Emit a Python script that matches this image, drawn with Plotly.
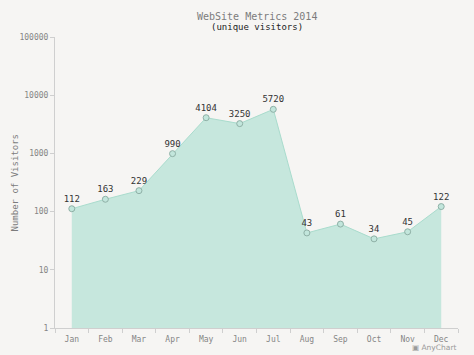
import plotly.graph_objects as go

months = ["Jan", "Feb", "Mar", "Apr", "May", "Jun", "Jul", "Aug", "Sep", "Oct", "Nov", "Dec"]
visitors = [112, 163, 229, 990, 4104, 3250, 5720, 43, 61, 34, 45, 122]
baseline = [1] * len(months)
y_ticks = [1, 10, 100, 1000, 10000, 100000]
y_tick_labels = ["1", "10", "100", "1000", "10000", "100000"]

font_family = "DejaVu Sans Mono, monospace"
PLOT_TOP, PLOT_BOTTOM = 37, 328
PH = PLOT_BOTTOM - PLOT_TOP


def py(px):
    return (PLOT_BOTTOM - px) / PH


fig = go.Figure()
fig.add_trace(go.Scatter(x=months, y=baseline, mode="lines", line=dict(width=0),
                         hoverinfo="skip", showlegend=False))
fig.add_trace(go.Scatter(
    x=months, y=visitors, mode="lines+markers+text",
    fill="tonexty", fillcolor="rgba(181,225,213,0.75)",
    line=dict(color="#a9dccd", width=1),
    marker=dict(size=6, color="#c2e6dc", line=dict(color="#8fb0a6", width=1)),
    text=[str(v) for v in visitors], textposition="top center",
    textfont=dict(family=font_family, size=9, color="#333333"),
    showlegend=False,
))

fig.update_layout(
    width=474, height=355,
    margin=dict(l=55, r=16, t=37, b=27, autoexpand=False),
    paper_bgcolor="#f6f5f3", plot_bgcolor="#f6f5f3",
    font=dict(family=font_family, size=9, color="#7c7c7c"),
    xaxis=dict(
        type="category", range=[-0.5, 11.5], tickson="boundaries",
        showline=True, linecolor="#cfcfcf", linewidth=1,
        ticks="outside", ticklen=4, tickcolor="#cfcfcf",
        showgrid=False, zeroline=False, automargin=False,
        ticklabelstandoff=3,
        tickfont=dict(family=font_family, size=8, color="#858585"),
    ),
    yaxis=dict(
        type="log", range=[0, 5],
        tickvals=y_ticks, ticktext=y_tick_labels,
        showline=True, linecolor="#cfcfcf", linewidth=1,
        ticks="outside", ticklen=4, tickcolor="#cfcfcf",
        showgrid=False, zeroline=False, automargin=False,
        tickfont=dict(family=font_family, size=8, color="#858585"),
    ),
    annotations=[
        dict(text="WebSite Metrics 2014", x=0.5, xref="paper", y=py(16), yref="paper",
             xanchor="center", yanchor="middle", showarrow=False,
             font=dict(family=font_family, size=10, color="#7c7c7c")),
        dict(text="(unique visitors)", x=0.5, xref="paper", y=py(27), yref="paper",
             xanchor="center", yanchor="middle", showarrow=False,
             font=dict(family=font_family, size=9, color="#222222")),
        dict(text="Number of Visitors", x=-41 / 403, xref="paper", y=0.5, yref="paper",
             xanchor="center", yanchor="middle", textangle=-90, showarrow=False,
             font=dict(family=font_family, size=9, color="#7c7c7c")),
        dict(text="▣ AnyChart", x=1.0, xref="paper", y=py(347), yref="paper",
             xanchor="right", yanchor="middle", showarrow=False,
             font=dict(family="DejaVu Sans", size=7.5, color="#9a9a9a")),
    ],
)

fig.write_html("out.html")
